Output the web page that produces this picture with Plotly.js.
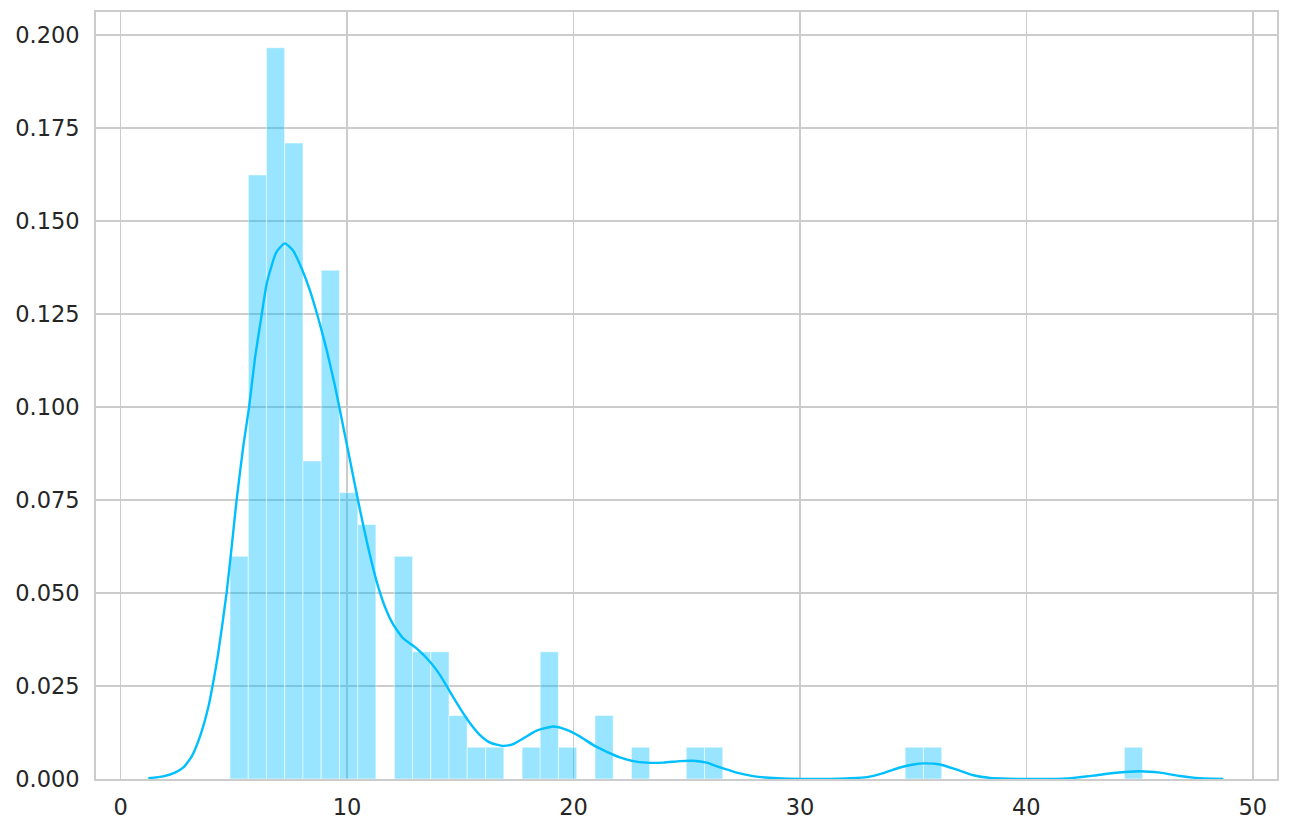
<!DOCTYPE html>
<html>
<head>
<meta charset="utf-8">
<script src="https://cdn.plot.ly/plotly-3.0.1.min.js"></script>
<style>
html,body{margin:0;padding:0;background:#fff;}
#chart{width:1290px;height:832px;}
</style>
</head>
<body>
<div id="chart"></div>
<script>
// Histogram bins (centers) and density heights
const binCenters = [5.23, 6.04, 6.84, 7.65, 8.45, 9.26, 10.07, 10.87, 11.68, 12.49,
  13.29, 14.10, 14.90, 15.71, 16.52, 17.32, 18.13, 18.93, 19.74, 20.55,
  21.35, 22.16, 22.96, 23.77, 24.58, 25.38, 26.19, 26.99, 27.80, 28.61,
  29.41, 30.22, 31.02, 31.83, 32.64, 33.44, 34.25, 35.05, 35.86, 36.67,
  37.47, 38.28, 39.08, 39.89, 40.70, 41.50, 42.31, 43.11, 43.92, 44.73];
const binDensity = [0.0599, 0.1624, 0.1966, 0.1710, 0.0855, 0.1368, 0.0770, 0.0684, 0, 0.0599,
  0.0342, 0.0342, 0.0171, 0.00855, 0.00855, 0, 0.00855, 0.0342, 0.00855, 0,
  0.0171, 0, 0.00855, 0, 0, 0.00855, 0.00855, 0, 0, 0,
  0, 0, 0, 0, 0, 0, 0, 0.00855, 0.00855, 0,
  0, 0, 0, 0, 0, 0, 0, 0, 0, 0.00855];
const binWidth = 0.806;

// KDE curve
const kdeX = [1.22, 1.88, 2.40, 2.77, 3.14, 3.50, 3.87, 4.09, 4.31, 4.68, 4.90, 5.12, 5.42, 5.67, 5.93,
  6.23, 6.45, 6.87, 7.25, 7.62, 7.99, 8.36, 8.73, 9.10, 9.47, 9.83, 10.20, 10.57, 10.94, 11.31,
  11.67, 12.04, 12.48, 13.07, 13.66, 14.10, 14.54, 14.99, 15.43, 15.87, 16.31, 16.90, 17.34, 17.78,
  18.37, 19.11, 19.70, 20.29, 20.88, 21.47, 22.05, 22.64, 23.23, 23.97, 24.70, 25.29, 25.88, 26.47,
  27.06, 27.35, 28.0, 29.0, 30.0, 31.0, 31.7, 32.22, 32.95, 33.68, 34.42, 35.01, 35.48, 36.19, 36.93, 37.66,
  38.40, 39.2, 40.0, 41.0, 41.6, 42.08, 42.96, 43.84, 45.02, 45.91, 46.79, 47.67, 48.70];
const kdeY = [0.0002, 0.0007, 0.0017, 0.0031, 0.0061, 0.0114, 0.0193, 0.0261, 0.0339, 0.0501, 0.0623, 0.0750, 0.0897, 0.0999, 0.1131,
  0.1249, 0.1332, 0.1416, 0.1440, 0.1420, 0.1373, 0.1313, 0.1238, 0.1153, 0.1055, 0.0947, 0.0835, 0.0723, 0.0620, 0.0530,
  0.0463, 0.0415, 0.0378, 0.0351, 0.0315, 0.0280, 0.0235, 0.0190, 0.0150, 0.0118, 0.0098, 0.0089, 0.0094, 0.0109,
  0.0130, 0.0141, 0.0132, 0.0114, 0.0091, 0.0073, 0.0058, 0.0048, 0.0044, 0.0044, 0.0048, 0.0049, 0.0044, 0.0031,
  0.0020, 0.0015, 0.0007, 0.0002, 0.0000, 0.0000, 0.0001, 0.0002, 0.0005, 0.0016, 0.0031, 0.0039, 0.0042, 0.0039, 0.0025, 0.0010,
  0.0003, 0.0001, 0.0000, 0.0000, 0.0001, 0.0003, 0.0009, 0.0016, 0.0021, 0.0017, 0.0008, 0.0002, 0.0000];

const xTicks = [0, 10, 20, 30, 40, 50];
const yTicks = [0, 0.025, 0.05, 0.075, 0.1, 0.125, 0.15, 0.175, 0.2];
const yTickText = ['0.000', '0.025', '0.050', '0.075', '0.100', '0.125', '0.150', '0.175', '0.200'];

const traces = [
  {
    type: 'bar',
    x: binCenters,
    y: binDensity,
    width: binWidth,
    marker: {color: 'rgba(0,191,255,0.4)', line: {color: 'rgba(255,255,255,0.55)', width: 1}},
    hoverinfo: 'skip',
    showlegend: false
  },
  {
    type: 'scatter',
    mode: 'lines',
    x: kdeX,
    y: kdeY,
    line: {color: '#00BFFF', width: 2.4, shape: 'spline', smoothing: 0.5},
    hoverinfo: 'skip',
    showlegend: false
  }
];

const axisCommon = {
  showgrid: true,
  gridcolor: '#cccccc',
  gridwidth: 1.5,
  zeroline: false,
  showline: true,
  linecolor: '#cccccc',
  linewidth: 1.8,
  mirror: true,
  ticks: '',
  tickfont: {family: 'DejaVu Sans, sans-serif', size: 22.5, color: '#262626'}
};

const layout = {
  width: 1290,
  height: 832,
  margin: {l: 96, r: 13, t: 12, b: 53, pad: 0},
  paper_bgcolor: '#ffffff',
  plot_bgcolor: '#ffffff',
  bargap: 0,
  showlegend: false,
  xaxis: Object.assign({}, axisCommon, {
    range: [-1.09, 51.07],
    tickvals: xTicks,
    ticktext: xTicks.map(String),
    ticklabelstandoff: 7
  }),
  yaxis: Object.assign({}, axisCommon, {
    range: [0, 0.2062],
    tickvals: yTicks,
    ticktext: yTickText,
    ticklabelstandoff: 10
  })
};

Plotly.newPlot('chart', traces, layout, {displayModeBar: false, staticPlot: true});
</script>
</body>
</html>
